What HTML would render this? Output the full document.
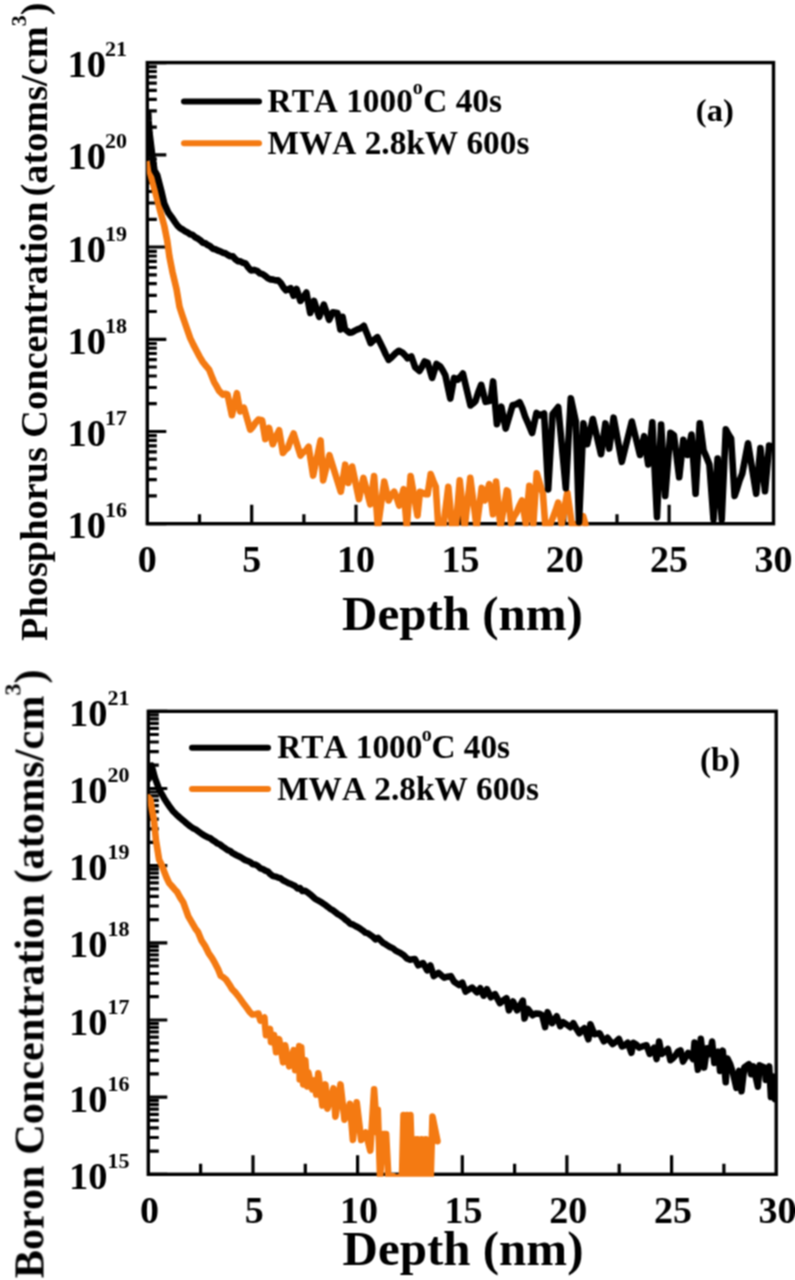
<!DOCTYPE html>
<html><head><meta charset="utf-8"><style>html,body{margin:0;padding:0;background:#fff;overflow:hidden}svg{display:block;font-kerning:none}</style></head><body>
<svg width="795" height="1280" viewBox="0 0 795 1280">
<defs><filter id="soft" filterUnits="userSpaceOnUse" x="0" y="0" width="795" height="1280" color-interpolation-filters="sRGB"><feConvolveMatrix order="3" kernelMatrix="1 2 1 2 4 2 1 2 1" divisor="16" edgeMode="duplicate"/></filter></defs>
<g filter="url(#soft)">
<rect width="795" height="1280" fill="#fff"/>
<clipPath id="c62"><rect x="146.8" y="64.6" width="626.7" height="461.6"/></clipPath>
<rect x="147.3" y="62.6" width="626.2" height="461.1" fill="none" stroke="#000" stroke-width="3.4"/>
<path d="M147.3,62.6h19 M147.3,127.1h9.5 M147.3,110.8h9.5 M147.3,99.3h9.5 M147.3,90.4h9.5 M147.3,83.1h9.5 M147.3,76.9h9.5 M147.3,71.5h9.5 M147.3,66.8h9.5 M147.3,154.8h19 M147.3,219.3h9.5 M147.3,203.0h9.5 M147.3,191.5h9.5 M147.3,182.6h9.5 M147.3,175.3h9.5 M147.3,169.1h9.5 M147.3,163.8h9.5 M147.3,159.0h9.5 M147.3,247.0h19 M147.3,311.5h9.5 M147.3,295.3h9.5 M147.3,283.7h9.5 M147.3,274.8h9.5 M147.3,267.5h9.5 M147.3,261.3h9.5 M147.3,256.0h9.5 M147.3,251.3h9.5 M147.3,339.3h19 M147.3,403.7h9.5 M147.3,387.5h9.5 M147.3,376.0h9.5 M147.3,367.0h9.5 M147.3,359.7h9.5 M147.3,353.5h9.5 M147.3,348.2h9.5 M147.3,343.5h9.5 M147.3,431.5h19 M147.3,495.9h9.5 M147.3,479.7h9.5 M147.3,468.2h9.5 M147.3,459.2h9.5 M147.3,451.9h9.5 M147.3,445.8h9.5 M147.3,440.4h9.5 M147.3,435.7h9.5 M147.3,523.7h19 M199.5,523.7v-9.5 M251.7,523.7v-19 M303.9,523.7v-9.5 M356.0,523.7v-19 M408.2,523.7v-9.5 M460.4,523.7v-19 M512.6,523.7v-9.5 M564.8,523.7v-19 M617.0,523.7v-9.5 M669.1,523.7v-19 M721.3,523.7v-9.5" stroke="#000" stroke-width="3.2" fill="none"/>
<polyline clip-path="url(#c62)" points="148.0,164.1 152.1,180.3 156.2,195.5 160.2,210.8 164.3,226.0 167.3,241.2 169.4,256.5 172.4,271.7 176.5,289.0 179.5,306.7 182.0,314.4 184.5,321.8 187.4,330.1 190.2,338.1 193.3,344.6 196.5,350.7 199.6,356.6 202.8,362.0 205.9,365.9 209.1,369.6 211.6,375.9 214.1,382.1 216.6,386.3 219.1,390.9 222.9,394.7 225.0,393.8 227.5,394.5 231.9,415.2 236.9,393.2 240.1,411.4 243.9,407.7 250.2,429.7 252.9,426.7 255.6,422.6 258.3,419.6 262.1,420.3 265.3,439.1 269.0,427.8 272.8,444.2 275.9,437.0 279.1,430.3 282.9,453.0 285.4,449.7 287.9,447.9 290.7,440.1 293.6,433.5 300.5,455.5 303.2,452.2 305.9,450.4 308.6,446.7 313.1,475.6 320.6,440.4 323.1,480.4 329.4,455.2 340.8,491.7 345.2,464.7 348.3,482.9 352.1,466.5 359.0,499.2 363.4,477.9 370.3,504.3 374.1,476.0 377.9,526.9 384.2,481.6 388.6,500.5 391.4,494.9 394.2,491.7 396.7,497.7 399.2,505.5 403.6,489.2 406.8,526.9 410.6,476.0 417.5,515.6 420.0,491.7 422.5,492.7 425.1,494.2 427.6,494.2 430.7,474.1 433.2,480.7 435.8,486.7 438.3,526.9 440.8,525.8 443.3,526.9 448.3,486.7 452.1,526.9 455.9,526.9 459.7,480.4 464.7,526.9 470.3,477.9 476.6,526.9 481.7,487.9 484.8,500.5 489.2,484.2 493.0,514.3 496.1,481.6 500.5,526.9 506.8,490.4 507.8,491.3 511.2,524.2 513.9,516.7 516.6,512.5 519.3,505.9 522.0,500.4 525.9,524.2 529.3,485.7 533.3,524.2 536.7,473.2 542.9,493.6 545.2,524.2 547.7,523.5 550.3,524.2 552.9,517.6 555.6,510.5 558.2,502.6 561.6,524.2 567.3,492.5 571.8,524.2 575.2,524.2 578.6,524.2 583.1,516.2 585.4,524.2" fill="none" stroke="#f47a12" stroke-width="6.6" stroke-linejoin="round" stroke-linecap="round"/>
<polyline clip-path="url(#c62)" points="148.3,114.0 148.6,121.0 149.5,133.0 151.4,148.5 152.6,158.0 154.5,170.5 157.2,175.2 161.2,190.5 164.3,203.7 168.4,212.8 171.7,217.2 175.0,222.1 177.5,225.6 180.1,228.1 182.6,229.5 185.1,231.2 187.6,232.4 190.1,234.2 192.6,234.9 195.2,237.2 197.7,238.5 200.2,240.2 202.7,242.7 205.2,243.2 207.7,245.1 210.3,246.3 212.8,248.7 215.3,249.3 217.8,250.5 220.3,251.3 222.8,252.7 225.3,253.3 227.9,255.0 230.4,256.3 232.9,256.3 235.4,259.3 237.9,261.1 240.4,261.4 243.0,262.8 245.5,263.4 248.2,267.3 250.9,270.4 254.0,269.9 257.0,270.8 260.0,273.4 262.6,274.1 265.3,276.0 267.9,278.2 270.6,279.4 273.1,279.6 275.6,280.4 278.1,280.2 280.8,283.0 283.4,287.3 286.0,290.4 290.6,288.1 293.6,295.7 296.6,288.9 300.4,300.9 303.4,297.0 306.4,292.6 310.2,313.0 314.0,300.9 319.2,316.8 323.8,304.7 326.4,311.9 329.1,319.8 332.8,312.3 337.4,313.0 340.4,329.6 342.6,316.8 344.9,328.9 349.4,332.6 351.9,332.5 354.5,330.9 357.0,329.6 360.4,328.3 363.8,325.8 367.2,334.2 370.6,343.2 374.0,339.8 377.4,337.2 380.2,342.7 383.0,348.4 385.8,354.5 388.7,359.8 391.2,357.7 393.7,355.1 396.2,352.6 398.8,350.8 402.5,352.7 405.1,355.3 407.6,358.4 411.4,356.5 415.1,367.2 419.5,370.9 422.0,366.8 424.6,361.5 427.7,362.8 432.1,377.9 436.5,364.0 440.3,366.5 442.8,370.5 445.3,375.3 450.3,398.6 454.1,377.9 457.9,379.7 460.4,376.7 462.9,373.5 470.5,405.5 473.0,403.5 475.5,401.1 478.3,392.2 481.2,384.8 485.6,401.8 488.1,401.2 490.6,400.5 493.1,381.4 496.9,424.2 501.3,406.6 505.7,428.6 512.6,405.3 516.1,404.4 519.6,402.2 522.4,408.4 525.2,416.7 528.7,424.7 532.1,433.0 536.5,412.9 540.3,415.4 544.1,413.5 548.2,489.4 552.6,414.0 555.4,410.5 558.2,407.0 565.8,488.2 570.8,398.2 575.8,421.5 579.0,522.1 583.4,423.4 587.2,444.2 592.8,419.0 601.0,454.2 605.4,423.4 609.2,448.6 613.6,417.7 621.8,461.8 631.8,421.5 640.0,455.0 644.1,436.2 648.2,464.4 652.3,422.2 657.0,517.1 661.1,424.5 665.2,496.0 670.4,432.7 673.9,435.1 679.2,477.3 683.3,439.8 687.4,455.0 691.5,434.5 695.6,493.7 699.7,423.4 700.0,423.4 703.5,450.3 706.4,456.9 709.4,464.4 713.5,519.5 717.6,458.5 721.7,519.5 725.8,429.2 728.4,434.2 731.1,438.6 734.6,496.0 737.1,488.6 739.6,480.4 742.2,473.8 748.0,443.3 756.2,493.7 760.4,448.0 765.0,491.3 769.1,445.6 773.2,446.8" fill="none" stroke="#000" stroke-width="6.6" stroke-linejoin="round" stroke-linecap="round"/>
<clipPath id="c711"><rect x="147.8" y="713.3" width="628.4000000000001" height="463.5"/></clipPath>
<rect x="148.3" y="711.3" width="627.9000000000001" height="463.0" fill="none" stroke="#000" stroke-width="3.4"/>
<path d="M148.3,711.3h19 M148.3,765.2h10.5 M148.3,751.6h10.5 M148.3,742.0h10.5 M148.3,734.5h10.5 M148.3,728.4h10.5 M148.3,723.3h10.5 M148.3,718.8h10.5 M148.3,714.8h10.5 M148.3,788.5h19 M148.3,842.4h10.5 M148.3,828.8h10.5 M148.3,819.2h10.5 M148.3,811.7h10.5 M148.3,805.6h10.5 M148.3,800.4h10.5 M148.3,795.9h10.5 M148.3,792.0h10.5 M148.3,865.6h19 M148.3,919.6h10.5 M148.3,906.0h10.5 M148.3,896.3h10.5 M148.3,888.9h10.5 M148.3,882.8h10.5 M148.3,877.6h10.5 M148.3,873.1h10.5 M148.3,869.2h10.5 M148.3,942.8h19 M148.3,996.7h10.5 M148.3,983.1h10.5 M148.3,973.5h10.5 M148.3,966.0h10.5 M148.3,959.9h10.5 M148.3,954.8h10.5 M148.3,950.3h10.5 M148.3,946.3h10.5 M148.3,1020.0h19 M148.3,1073.9h10.5 M148.3,1060.3h10.5 M148.3,1050.7h10.5 M148.3,1043.2h10.5 M148.3,1037.1h10.5 M148.3,1031.9h10.5 M148.3,1027.4h10.5 M148.3,1023.5h10.5 M148.3,1097.1h19 M148.3,1151.1h10.5 M148.3,1137.5h10.5 M148.3,1127.8h10.5 M148.3,1120.4h10.5 M148.3,1114.3h10.5 M148.3,1109.1h10.5 M148.3,1104.6h10.5 M148.3,1100.7h10.5 M148.3,1174.3h19 M200.6,1174.3v-10.5 M253.0,1174.3v-19 M305.3,1174.3v-10.5 M357.6,1174.3v-19 M409.9,1174.3v-10.5 M462.3,1174.3v-19 M514.6,1174.3v-10.5 M566.9,1174.3v-19 M619.2,1174.3v-10.5 M671.6,1174.3v-19 M723.9,1174.3v-10.5" stroke="#000" stroke-width="3.2" fill="none"/>
<polyline clip-path="url(#c711)" points="148.3,797.5 150.5,800.0 152.1,810.4 154.0,820.4 156.0,840.5 159.1,859.6 161.6,864.7 164.1,871.4 166.6,877.8 169.2,883.1 171.8,886.0 174.5,889.2 177.2,892.1 180.2,897.6 183.2,902.2 185.8,909.3 188.3,916.3 191.8,922.3 195.3,928.4 198.0,932.0 201.5,940.4 205.1,946.1 208.6,953.1 212.1,958.2 215.1,963.4 218.1,969.2 220.7,975.7 223.2,977.3 226.2,979.8 229.2,984.3 232.2,989.2 235.3,992.4 238.3,996.2 241.3,1000.4 244.3,1004.6 247.3,1008.5 249.8,1012.1 252.4,1014.5 255.4,1014.2 258.4,1013.5 260.4,1020.6 264.4,1017.5 265.0,1025.0 266.0,1035.1 270.0,1029.1 271.0,1042.1 274.1,1035.1 276.1,1052.2 279.1,1039.1 283.1,1062.3 285.1,1045.2 289.2,1066.3 293.7,1050.2 295.2,1070.3 299.2,1046.2 299.7,1079.4 301.2,1047.2 303.2,1084.4 305.3,1060.3 307.3,1086.4 308.3,1072.3 312.3,1089.4 314.3,1080.4 316.3,1094.5 318.3,1073.3 322.4,1105.5 325.4,1084.4 327.4,1108.6 333.4,1088.4 335.4,1116.6 340.5,1084.4 344.5,1119.6 347.2,1112.3 349.9,1103.8 352.9,1140.0 356.7,1102.3 361.2,1140.0 365.8,1132.5 370.3,1150.6 374.1,1089.4 377.1,1132.5 377.8,1109.8 380.1,1177.7 383.1,1134.0 386.1,1134.0 388.4,1177.7 391.1,1176.4 393.8,1176.4 396.5,1178.3 399.3,1176.9 402.0,1177.7 403.5,1115.1 405.3,1174.7 407.0,1115.1 408.8,1174.7 410.4,1115.1 412.5,1177.7 414.1,1139.2 416.0,1174.7 417.5,1139.2 419.3,1177.7 421.6,1139.2 423.9,1174.7 425.8,1139.2 427.6,1174.7 429.2,1144.5 430.7,1177.7 432.5,1116.6 437.5,1141.2" fill="none" stroke="#f47a12" stroke-width="6.6" stroke-linejoin="round" stroke-linecap="round"/>
<polyline clip-path="url(#c711)" points="148.6,779.0 151.6,765.5 155.0,778.1 159.1,789.2 161.6,793.8 164.1,798.2 167.1,802.9 170.1,807.3 173.1,811.2 176.2,814.3 179.7,817.5 183.2,820.4 186.7,823.5 190.3,826.4 192.9,828.2 195.6,829.4 198.3,831.4 200.0,832.6 202.5,834.4 205.0,835.8 207.5,837.2 210.1,838.1 212.6,840.1 215.1,841.6 217.6,843.6 220.1,844.6 222.6,846.6 225.2,848.3 227.7,850.1 230.2,851.0 232.7,853.2 235.2,854.5 237.7,855.8 240.3,857.0 242.8,858.6 245.3,860.1 247.8,861.0 250.3,862.1 252.8,864.3 255.3,864.4 257.9,866.0 260.4,868.4 262.9,869.1 265.4,870.6 267.9,871.5 270.4,874.2 273.0,876.1 275.5,876.6 278.0,877.6 280.5,878.2 283.0,880.3 285.5,881.5 288.1,882.9 291.5,884.3 295.0,886.0 297.5,888.4 300.0,888.1 302.5,891.1 305.1,890.7 307.6,892.4 310.1,894.3 312.6,896.5 315.1,898.7 317.6,900.2 320.2,901.6 322.7,903.2 325.2,904.9 327.7,906.8 330.2,908.8 332.7,910.1 335.3,912.1 337.8,914.1 340.3,915.5 342.8,917.2 345.3,919.5 347.8,921.2 350.3,923.9 352.9,924.5 355.4,926.0 357.9,927.2 360.4,928.8 362.9,930.6 365.4,932.7 368.0,933.3 370.5,935.1 373.0,936.9 375.5,939.4 378.0,937.8 380.5,940.3 383.1,942.8 385.6,944.2 388.1,945.9 390.6,947.3 393.1,948.4 395.6,950.6 398.1,951.9 400.7,953.2 403.8,955.2 406.9,958.5 410.0,959.7 414.9,958.9 418.2,965.4 423.1,963.0 427.2,970.3 430.4,965.4 433.7,976.1 438.6,972.8 441.5,975.4 444.3,977.7 447.6,976.7 450.9,976.1 454.2,981.8 459.1,985.1 462.3,982.6 465.6,991.6 468.9,989.5 472.1,987.5 477.0,992.4 480.3,988.3 483.6,995.7 486.9,989.2 490.9,997.3 495.0,994.1 499.9,1003.1 503.2,1000.5 506.5,998.1 508.9,1010.4 513.0,1001.4 517.1,1010.4 520.0,1005.5 522.8,1000.6 524.5,1018.6 527.7,1008.8 532.6,1015.3 535.9,1013.4 539.2,1013.7 542.1,1015.2 545.1,1027.2 547.6,1012.1 552.1,1023.2 556.7,1016.2 560.2,1026.2 563.2,1022.2 566.7,1024.5 570.3,1027.2 573.3,1023.2 576.3,1028.6 579.3,1033.3 581.8,1030.3 584.3,1028.2 588.4,1039.3 590.4,1024.2 594.4,1034.3 596.9,1033.7 599.4,1033.3 600.0,1033.9 603.8,1041.4 607.5,1037.7 610.1,1041.2 612.6,1044.0 615.7,1041.8 618.9,1038.9 622.0,1046.5 624.8,1045.2 627.7,1042.7 631.4,1052.8 633.3,1042.7 636.2,1044.5 639.0,1047.7 641.5,1046.8 644.0,1045.9 646.5,1045.2 649.7,1054.0 654.1,1047.7 656.6,1059.1 659.1,1041.4 661.6,1054.0 664.8,1051.8 667.9,1049.0 670.4,1060.3 673.0,1058.2 675.5,1055.3 678.0,1051.7 680.5,1050.3 683.0,1061.6 685.5,1057.6 688.1,1052.8 690.6,1055.3 693.1,1059.1 694.5,1042.6 697.9,1069.8 700.8,1038.7 704.2,1067.5 707.0,1048.3 709.8,1054.0 712.1,1041.5 714.3,1063.0 718.3,1051.7 720.0,1070.9 722.8,1050.6 725.7,1082.3 727.4,1058.5 730.2,1064.2 733.0,1073.2 736.4,1087.9 739.2,1070.9 741.5,1091.3 744.3,1067.5 748.9,1064.2 751.1,1074.3 753.4,1066.4 757.9,1086.8 759.6,1065.3 762.2,1066.7 764.7,1067.5 765.8,1080.0 769.2,1066.4 770.9,1097.0 773.8,1076.6 774.9,1099.2 776.0,1099.2" fill="none" stroke="#000" stroke-width="6.5" stroke-linejoin="round" stroke-linecap="round"/>
<text x="67.6" y="77.1" font-family="Liberation Serif" font-weight="bold" font-size="38.5">10</text>
<text x="105" y="56.1" font-family="Liberation Serif" font-weight="bold" font-size="22">21</text>
<text x="67.6" y="169.3" font-family="Liberation Serif" font-weight="bold" font-size="38.5">10</text>
<text x="105" y="148.3" font-family="Liberation Serif" font-weight="bold" font-size="22">20</text>
<text x="67.6" y="261.5" font-family="Liberation Serif" font-weight="bold" font-size="38.5">10</text>
<text x="105" y="240.5" font-family="Liberation Serif" font-weight="bold" font-size="22">19</text>
<text x="67.6" y="353.8" font-family="Liberation Serif" font-weight="bold" font-size="38.5">10</text>
<text x="105" y="332.8" font-family="Liberation Serif" font-weight="bold" font-size="22">18</text>
<text x="67.6" y="446.0" font-family="Liberation Serif" font-weight="bold" font-size="38.5">10</text>
<text x="105" y="425.0" font-family="Liberation Serif" font-weight="bold" font-size="22">17</text>
<text x="67.6" y="538.2" font-family="Liberation Serif" font-weight="bold" font-size="38.5">10</text>
<text x="105" y="517.2" font-family="Liberation Serif" font-weight="bold" font-size="22">16</text>
<text x="147.3" y="572" text-anchor="middle" font-family="Liberation Serif" font-weight="bold" font-size="38">0</text>
<text x="251.7" y="572" text-anchor="middle" font-family="Liberation Serif" font-weight="bold" font-size="38">5</text>
<text x="356.0" y="572" text-anchor="middle" font-family="Liberation Serif" font-weight="bold" font-size="38">10</text>
<text x="460.4" y="572" text-anchor="middle" font-family="Liberation Serif" font-weight="bold" font-size="38">15</text>
<text x="564.8" y="572" text-anchor="middle" font-family="Liberation Serif" font-weight="bold" font-size="38">20</text>
<text x="669.1" y="572" text-anchor="middle" font-family="Liberation Serif" font-weight="bold" font-size="38">25</text>
<text x="773.5" y="572" text-anchor="middle" font-family="Liberation Serif" font-weight="bold" font-size="38">30</text>
<text x="342" y="630" font-family="Liberation Serif" font-weight="bold" font-size="49">Depth (nm)</text>
<text transform="translate(46.5,640.9) rotate(-90)" font-family="Liberation Serif" font-weight="bold" font-size="38.3">Phosphorus Concentration<tspan dx="5">(atoms/cm</tspan><tspan font-size="22" dy="-21">3</tspan><tspan dy="21">)</tspan></text>
<path d="M184,101.4H259" stroke="#000" stroke-width="6" stroke-linecap="round"/>
<path d="M184,143.2H259" stroke="#f47a12" stroke-width="6" stroke-linecap="round"/>
<text x="267.6" y="112" font-family="Liberation Serif" font-weight="bold" font-size="33.3">RTA 1000</text>
<text x="412.8" y="94.3" font-family="Liberation Serif" font-weight="bold" font-size="20">o</text>
<text x="423.3" y="112" font-family="Liberation Serif" font-weight="bold" font-size="33.3">C 40s</text>
<text x="267.6" y="154" font-family="Liberation Serif" font-weight="bold" font-size="33.3">MWA 2.8kW 600s</text>
<text x="695.8" y="120.6" font-family="Liberation Serif" font-weight="bold" font-size="32.6">(a)</text>
<text x="69" y="725.8" font-family="Liberation Serif" font-weight="bold" font-size="38.5">10</text>
<text x="107.5" y="704.8" font-family="Liberation Serif" font-weight="bold" font-size="22">21</text>
<text x="69" y="803.0" font-family="Liberation Serif" font-weight="bold" font-size="38.5">10</text>
<text x="107.5" y="782.0" font-family="Liberation Serif" font-weight="bold" font-size="22">20</text>
<text x="69" y="880.1" font-family="Liberation Serif" font-weight="bold" font-size="38.5">10</text>
<text x="107.5" y="859.1" font-family="Liberation Serif" font-weight="bold" font-size="22">19</text>
<text x="69" y="957.3" font-family="Liberation Serif" font-weight="bold" font-size="38.5">10</text>
<text x="107.5" y="936.3" font-family="Liberation Serif" font-weight="bold" font-size="22">18</text>
<text x="69" y="1034.5" font-family="Liberation Serif" font-weight="bold" font-size="38.5">10</text>
<text x="107.5" y="1013.5" font-family="Liberation Serif" font-weight="bold" font-size="22">17</text>
<text x="69" y="1111.6" font-family="Liberation Serif" font-weight="bold" font-size="38.5">10</text>
<text x="107.5" y="1090.6" font-family="Liberation Serif" font-weight="bold" font-size="22">16</text>
<text x="69" y="1188.8" font-family="Liberation Serif" font-weight="bold" font-size="38.5">10</text>
<text x="107.5" y="1167.8" font-family="Liberation Serif" font-weight="bold" font-size="22">15</text>
<text x="149.6" y="1222.5" text-anchor="middle" font-family="Liberation Serif" font-weight="bold" font-size="38">0</text>
<text x="254.3" y="1222.5" text-anchor="middle" font-family="Liberation Serif" font-weight="bold" font-size="38">5</text>
<text x="358.9" y="1222.5" text-anchor="middle" font-family="Liberation Serif" font-weight="bold" font-size="38">10</text>
<text x="463.6" y="1222.5" text-anchor="middle" font-family="Liberation Serif" font-weight="bold" font-size="38">15</text>
<text x="568.2" y="1222.5" text-anchor="middle" font-family="Liberation Serif" font-weight="bold" font-size="38">20</text>
<text x="672.9" y="1222.5" text-anchor="middle" font-family="Liberation Serif" font-weight="bold" font-size="38">25</text>
<text x="777.5" y="1222.5" text-anchor="middle" font-family="Liberation Serif" font-weight="bold" font-size="38">30</text>
<text x="342.6" y="1265" font-family="Liberation Serif" font-weight="bold" font-size="49">Depth (nm)</text>
<text transform="translate(43.5,1278.3) rotate(-90)" font-family="Liberation Serif" font-weight="bold" font-size="42.3">Boron Concentration (atoms/cm<tspan font-size="24" dy="-23">3</tspan><tspan dy="23">)</tspan></text>
<path d="M192,747.7H268" stroke="#000" stroke-width="6" stroke-linecap="round"/>
<path d="M192,788.9H268" stroke="#f47a12" stroke-width="6" stroke-linecap="round"/>
<text x="277.2" y="758" font-family="Liberation Serif" font-weight="bold" font-size="33.3">RTA 1000</text>
<text x="421.8" y="740.8" font-family="Liberation Serif" font-weight="bold" font-size="20">o</text>
<text x="431.4" y="758" font-family="Liberation Serif" font-weight="bold" font-size="33.3">C 40s</text>
<text x="277.2" y="799.5" font-family="Liberation Serif" font-weight="bold" font-size="33.3">MWA 2.8kW 600s</text>
<text x="700" y="771" font-family="Liberation Serif" font-weight="bold" font-size="33">(b)</text>
</g>
</svg>
</body></html>
